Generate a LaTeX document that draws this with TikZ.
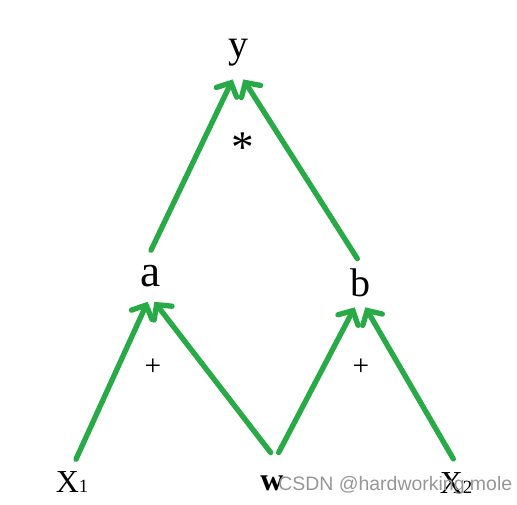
\documentclass[tikz,border=0pt]{standalone}
\usepackage{fontspec}
\setmainfont{Liberation Serif}
\newfontfamily\wmfont{Liberation Sans}
\usetikzlibrary{arrows.meta}
\definecolor{edgegreen}{RGB}{40,170,70}
\definecolor{wmgray}{RGB}{150,150,150}

\begin{document}
\begin{tikzpicture}[x=0.75pt,y=0.75pt,yscale=-1,xscale=1,
  var/.style={inner xsep=0pt, font=\fontsize{30}{30}\selectfont},
  leaf/.style={inner xsep=0pt, font=\fontsize{24}{24}\selectfont},
  opsign/.style={inner sep=0pt, font=\fontsize{22}{22}\selectfont},
  edge/.style={draw=edgegreen, line width=4pt, line cap=round,
    -{Straight Barb[length=8pt,width=17pt,line cap=round]}}]
\useasboundingbox (0,0) rectangle (517,504);

% Text Node
\node [var, inner ysep=9.5pt] (y) at (238,53) {y};
% Text Node
\node [var, inner ysep=11pt, font=\fontsize{34}{34}\selectfont] (a) at (151,276) {a};
% Text Node
\node [var, inner ysep=7.5pt] (b) at (360,283) {b};
% Text Node
\node [leaf, inner ysep=9pt] (x1) at (72,482) {X\raisebox{0pt}{\fontsize{14}{14}\selectfont 1}};
% Text Node
\node [leaf, inner ysep=17pt, font=\fontsize{24}{24}\selectfont\bfseries] (w) at (272,483) {w};
% Text Node
\node [leaf, inner ysep=10pt] (x2) at (456,483) {X\raisebox{0pt}{\fontsize{14}{14}\selectfont 2}};

% Text Node
\node [opsign, font=\fontsize{34}{34}\selectfont] (mul) at (243,148) {*};
% Text Node
\node [opsign] (adda) at (153,367) {+};
% Text Node
\node [opsign] (addb) at (361,367) {+};

%Straight Lines [id:edges]
\draw [edge] (a.north) -- ([xshift=-4pt]y.south);
\draw [edge] ([xshift=-2pt]b.north) -- ([xshift=4pt]y.south);
\draw [edge] ([xshift=3pt]x1.north) -- ([xshift=-2.5pt]a.south);
\draw [edge] ([xshift=-1pt]w.north) -- ([xshift=2.5pt]a.south);
\draw [edge] ([xshift=5pt]w.north) -- ([xshift=-4pt]b.south);
\draw [edge] ([xshift=-2pt]x2.north) -- ([xshift=4pt]b.south);

% Text Node
\node [font=\wmfont\fontsize{14.6}{14.6}\selectfont, text=wmgray, inner sep=0pt, anchor=west] (mark) at (278,485) {CSDN @hardworking mole};

\end{tikzpicture}
\end{document}
